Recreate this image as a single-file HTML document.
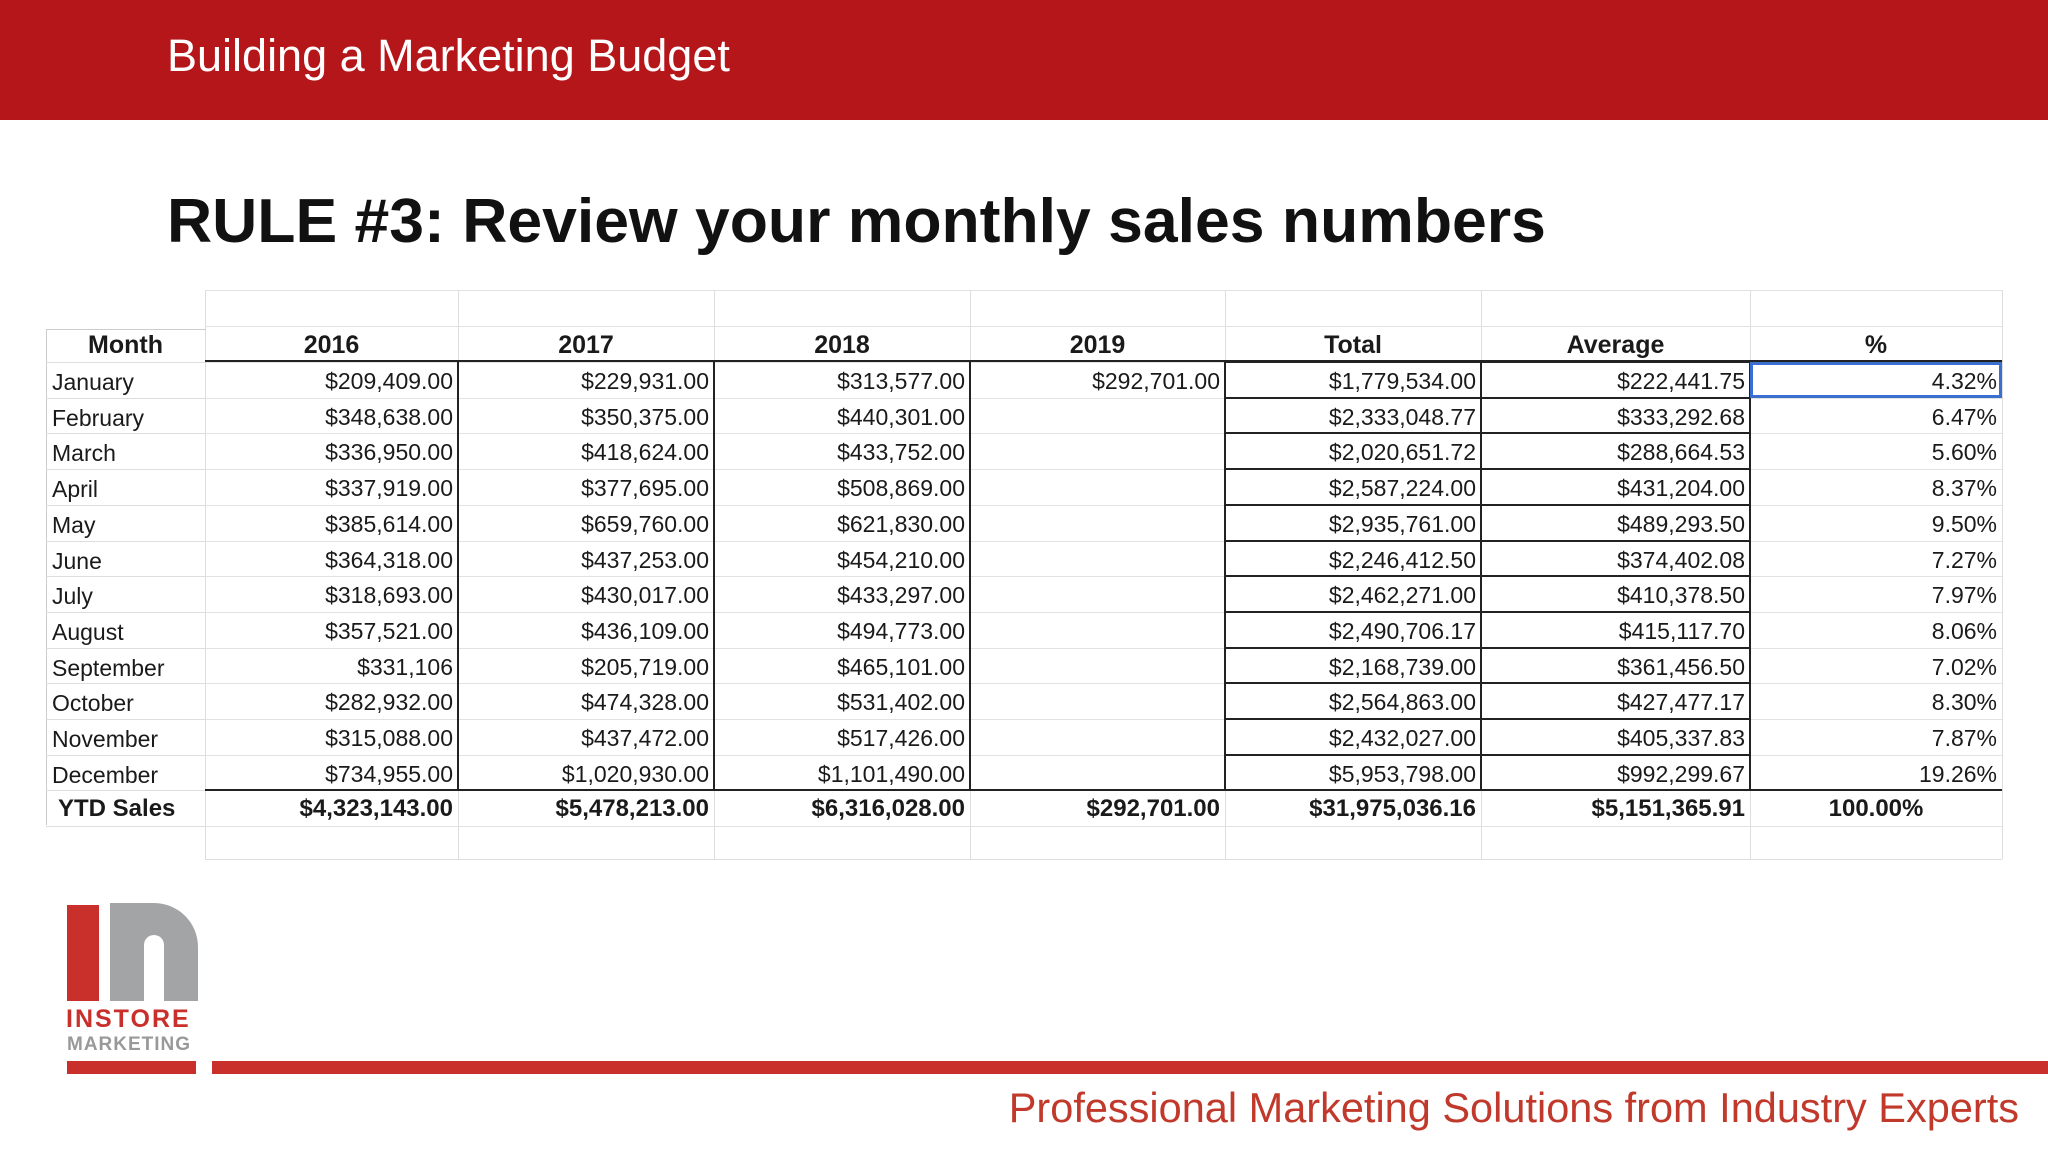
<!DOCTYPE html>
<html><head><meta charset="utf-8"><style>
body{margin:0;width:2048px;height:1152px;position:relative;background:#fff;overflow:hidden;font-family:"Liberation Sans",sans-serif}
.abs{position:absolute}
#tbl div{position:absolute;box-sizing:border-box;white-space:nowrap;color:#1a1a1a;font-size:23px;line-height:35px}
</style></head><body>
<div class="abs" style="left:0;top:0;width:2048px;height:120px;background:#b5161a"></div>
<div class="abs" style="left:167px;top:30px;font-size:45px;color:#fff">Building a Marketing Budget</div>
<div class="abs" style="left:167px;top:185px;font-size:62.5px;font-weight:bold;color:#111">RULE #3: Review your monthly sales numbers</div>
<div id="tbl" class="abs" style="left:0;top:0;width:2048px;height:1152px"></div>

<div class="abs" style="left:67px;top:905px;width:32px;height:96px;background:#c9302c"></div>
<div class="abs" style="left:110px;top:903px;width:88px;height:98px;background:#a3a4a6;border-radius:0 44px 0 0"></div>
<div class="abs" style="left:144px;top:935px;width:20px;height:66px;background:#fff;border-radius:10px 10px 0 0"></div>
<div class="abs" style="left:66px;top:1005px;font-size:25px;font-weight:bold;color:#c9302c;letter-spacing:2px">INSTORE</div>
<div class="abs" style="left:67px;top:1034px;font-size:19px;font-weight:bold;color:#999;letter-spacing:1px">MARKETING</div>
<div class="abs" style="left:67px;top:1061px;width:129px;height:13px;background:#c9302c"></div>
<div class="abs" style="left:212px;top:1061px;width:1836px;height:13px;background:#c9302c"></div>
<div class="abs" style="right:29px;top:1084px;font-size:41.5px;color:#c0392b">Professional Marketing Solutions from Industry Experts</div>

<script>
const months=["January","February","March","April","May","June","July","August","September","October","November","December"];
const y2016=["$209,409.00","$348,638.00","$336,950.00","$337,919.00","$385,614.00","$364,318.00","$318,693.00","$357,521.00","$331,106","$282,932.00","$315,088.00","$734,955.00"];
const y2017=["$229,931.00","$350,375.00","$418,624.00","$377,695.00","$659,760.00","$437,253.00","$430,017.00","$436,109.00","$205,719.00","$474,328.00","$437,472.00","$1,020,930.00"];
const y2018=["$313,577.00","$440,301.00","$433,752.00","$508,869.00","$621,830.00","$454,210.00","$433,297.00","$494,773.00","$465,101.00","$531,402.00","$517,426.00","$1,101,490.00"];
const y2019=["$292,701.00","","","","","","","","","","",""];
const totals=["$1,779,534.00","$2,333,048.77","$2,020,651.72","$2,587,224.00","$2,935,761.00","$2,246,412.50","$2,462,271.00","$2,490,706.17","$2,168,739.00","$2,564,863.00","$2,432,027.00","$5,953,798.00"];
const avgs=["$222,441.75","$333,292.68","$288,664.53","$431,204.00","$489,293.50","$374,402.08","$410,378.50","$415,117.70","$361,456.50","$427,477.17","$405,337.83","$992,299.67"];
const pcts=["4.32%","6.47%","5.60%","8.37%","9.50%","7.27%","7.97%","8.06%","7.02%","8.30%","7.87%","19.26%"];
const headers=["Month","2016","2017","2018","2019","Total","Average","%"];
const ytd=["YTD Sales","$4,323,143.00","$5,478,213.00","$6,316,028.00","$292,701.00","$31,975,036.16","$5,151,365.91","100.00%"];

const T=document.getElementById('tbl');
const xs=[46,205,458,714,970,1225,1481,1750,2002];
const top0=362,rh=35.7;
function cell(x,y,w,h,txt,style,name){
  const d=document.createElement('div');
  
  
  d.style.cssText=`left:${x}px;top:${y}px;width:${w}px;height:${h}px;`+style;
  d.textContent=txt;T.appendChild(d);return d;
}
for(let c=1;c<xs.length;c++) cell(xs[c],290,1,569,"","background:#ddd","grid-v");
for(let r=0;r<=16;r++){const y=r<2?(r==0?290:326):top0+(r-2)*rh;if(y>860)break;cell(205,Math.round(y),1797,1,"","background:#e2e2e2","grid-h");}
cell(205,859,1797,1,"","background:#ddd","grid-h");
cell(46,329,160,1,"","background:#ccc","month-border");
cell(46,329,1,496,"","background:#ccc","month-border");
for(let r=0;r<=13;r++) cell(46,Math.round(top0+r*rh),160,1,"","background:#ddd","month-row-line");
headers.forEach((h,i)=>{
  cell(xs[i],326,xs[i+1]-xs[i],36,h,"text-align:center;font-weight:bold;font-size:25px;line-height:38px","header-"+h.toLowerCase().replace('%','pct'));
});
cell(205,360,1797,2,"","background:#222","header-underline");
const cols=[y2016,y2017,y2018,y2019,totals,avgs,pcts];
const names=["2016","2017","2018","2019","total","average","pct"];
months.forEach((m,r)=>{
  const y=Math.round(top0+r*rh);
  cell(52,y+3,150,35,m,"","month-"+m.toLowerCase());
  cols.forEach((arr,c)=>{
    cell(xs[c+1],y+2,xs[c+2]-xs[c+1]-5,35,arr[r],"text-align:right",`cell-${names[c]}-${m.toLowerCase()}`);
  });
});
[458,714,970].forEach(x=>cell(x-1,362,2,428,"","background:#222","year-divider"));
[1225,1481,1750].forEach(x=>cell(x-1,362,2,428,"","background:#222","total-divider"));
for(let r=0;r<=12;r++) cell(1225,Math.round(top0+r*rh)-1,525,2,"","background:#222","total-row-line");
cell(205,789,1797,2,"","background:#222","ytd-topline");
cell(1750,362,252,36,"","border:3px solid #3a6fd0","selected-cell");
ytd.forEach((v,i)=>{
  const st=i==0?"font-weight:bold;font-size:24px;padding-left:12px":"font-weight:bold;font-size:24px;text-align:right;padding-right:5px";
  cell(i==0?46:xs[i],791,i==0?160:xs[i+1]-xs[i],35,v,i==7?"font-weight:bold;font-size:24px;text-align:center":st,"ytd-"+i);
});
</script>
</body></html>
